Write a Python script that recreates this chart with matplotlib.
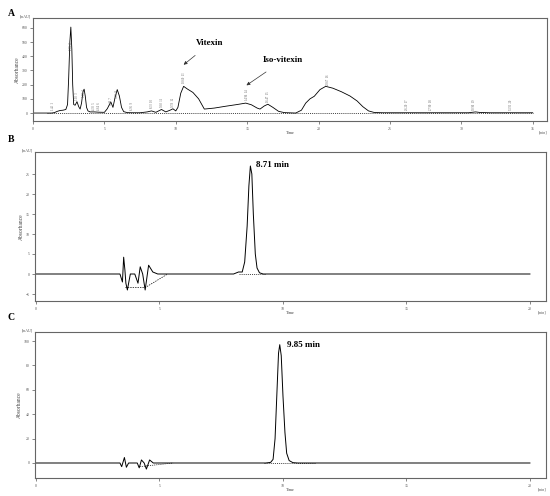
import matplotlib
matplotlib.use("Agg")
import matplotlib.pyplot as plt
import numpy as np

plt.rcParams['font.family'] = ['Liberation Serif', 'DejaVu Serif']

# ---- Panel A: extract chromatogram (time [min], absorbance [mAU]) ----
a_time = [0.0, 1.3, 1.5, 1.7, 1.9, 2.1, 2.3, 2.42, 2.5, 2.58, 2.65, 2.72, 2.78, 2.85,
          2.95, 3.08, 3.2, 3.3, 3.4, 3.5, 3.58, 3.66, 3.75, 3.85, 4.0, 4.3, 4.6, 5.0,
          5.2, 5.45, 5.6, 5.75, 5.9, 6.05, 6.2, 6.35, 6.6, 7.0, 7.5, 8.0, 8.3, 8.6,
          9.0, 9.3, 9.6, 9.8, 10.0, 10.15, 10.35, 10.55, 10.8, 11.2, 11.6, 12.0,
          12.7, 13.5, 14.3, 14.9, 15.3, 15.7, 15.9, 16.2, 16.45, 16.8, 17.2, 17.6,
          18.4, 18.8, 19.1, 19.4, 19.7, 20.1, 20.5, 21.0, 21.6, 22.2, 22.7, 23.1,
          23.5, 23.9, 24.5, 26.0, 28.0, 30.5, 31.0, 31.3, 32.0, 35.0]
a_abs = [0, 0, 3, 12, 18, 20, 25, 60, 250, 500, 605, 450, 200, 60,
         55, 80, 45, 28, 70, 150, 168, 120, 40, 15, 8, 8, 6, 5,
         30, 78, 40, 110, 165, 120, 40, 10, 3, 2, 2, 8, 15, 5,
         25, 8, 20, 30, 15, 40, 140, 188, 170, 145, 100, 28,
         35, 48, 60, 70, 58, 35, 28, 50, 62, 40, 12, 3,
         0, 20, 70, 100, 118, 165, 188, 175, 150, 120, 85, 45,
         15, 4, 2, 2, 2, 2, 8, 4, 2, 2]

a_peak_no = list(range(1, 21))
a_peak_rt = [1.42, 2.66, 3.10, 3.60, 4.30, 4.64, 5.48, 5.86, 6.95, 8.33,
             9.03, 9.78, 10.60, 14.96, 16.47, 20.67, 26.20, 27.90, 30.90, 33.50]
a_label_y = [20, 444, 90, 113, 20, 20, 56, 105, 20, 35,
             42, 42, 211, 92, 77, 197, 21, 21, 21, 21]

# ---- Panel B: standard, vitexin ----
b_time = [0.0, 3.4, 3.5, 3.55, 3.6, 3.64, 3.7, 3.82, 4.0, 4.13, 4.22, 4.32, 4.42,
          4.56, 4.73, 4.93, 6.0, 8.0, 8.2, 8.35, 8.45, 8.55, 8.62, 8.68, 8.74,
          8.8, 8.88, 8.95, 9.05, 9.2, 20.0]
b_abs = [0, 0, -2.0, 4.2, 1.0, -2.3, -4.0, 0, 0, -2.3, 1.8, 0, -4.0,
         2.2, 0.5, 0, 0, 0, 0.5, 0.5, 3, 12, 22, 27, 25,
         15, 5, 1.5, 0.3, 0, 0]
b_base_t = [3.62, 4.42, 5.33]
b_base_v = [-3.4, -3.4, 0.0]

# ---- Panel C: standard, iso-vitexin ----
c_time = [0.0, 3.4, 3.47, 3.58, 3.66, 3.75, 4.1, 4.18, 4.27, 4.38, 4.47, 4.6,
          4.75, 6.0, 9.3, 9.5, 9.6, 9.68, 9.75, 9.82, 9.87, 9.93, 10.0, 10.08,
          10.15, 10.25, 10.4, 10.6, 20.0]
c_abs = [0, 0, -3, 4.5, -3.5, 0, 0, -4, 2.5, 0, -5, 2.5,
         0, 0, 0, 0.5, 3, 20, 55, 90, 97, 88, 55, 25,
         8, 2, 0.3, 0, 0]
c_base_t = [4.2, 5.55]
c_base_v = [-3.0, 0.0]

W, H = 550, 496
fig = plt.figure(figsize=(W / 100, H / 100), dpi=100)


def px_axes(left, top, right, bottom):
    return fig.add_axes([left / W, 1 - bottom / H, (right - left) / W, (bottom - top) / H])


def style(ax, xt, yt):
    ax.set_xticks(xt)
    ax.set_yticks(yt)
    ax.tick_params(direction='out', length=2, width=0.5, labelsize=2.8, pad=2,
                   colors='#555555')
    for s in ax.spines.values():
        s.set_linewidth(0.8)
        s.set_color('#666666')
    ax.set_ylabel('Absorbance', fontsize=4, labelpad=1, color='#444444')
    ax.set_xlabel('Time', fontsize=3.2, labelpad=0, color='#444444')
    ax.text(-0.005, 1.0, '[mAU]', transform=ax.transAxes, fontsize=2.8,
            ha='right', va='bottom', color='#555555')
    ax.annotate('[min]', xy=(1.0, 0.0), xycoords='axes fraction',
                xytext=(0, -8), textcoords='offset points', fontsize=2.8,
                ha='right', va='center', color='#555555')


# Panel A
axA = px_axes(33, 18, 547, 121)
axA.plot(a_time, a_abs, color='black', lw=0.6)
axA.plot([1.0, 35.0], [0, 0], color='black', lw=0.5, ls=(0, (1.5, 1.5)))
for n, rt, ly in zip(a_peak_no, a_peak_rt, a_label_y):
    axA.text(rt, ly, f'{rt:.2f}  {n}', rotation=90, fontsize=2.0, ha='center',
             va='bottom', color='#555555')
axA.set_xlim(0, 36)
axA.set_ylim(-56, 669)
style(axA, range(0, 36, 5), range(0, 601, 100))
axA.annotate('Vitexin', xy=(10.55, 340), xytext=(12.4, 490), fontsize=6.5,
             fontweight='bold', ha='center', va='center',
             arrowprops=dict(arrowstyle='-|>', color='#333333', lw=0.5,
                             mutation_scale=5, shrinkB=0, shrinkA=6))
axA.annotate('Iso-vitexin', xy=(14.95, 195), xytext=(17.5, 370), fontsize=6.5,
             fontweight='bold', ha='center', va='center',
             arrowprops=dict(arrowstyle='-|>', color='#333333', lw=0.5,
                             mutation_scale=5, shrinkB=0, shrinkA=6))

# Panel B
axB = px_axes(35, 152, 546, 301)
axB.plot(b_time, b_abs, color='black', lw=0.7)
axB.plot(b_base_t, b_base_v, color='black', lw=0.5, ls=(0, (2, 1.5)))
axB.plot([8.2, 9.3], [0, 0], color='black', lw=0.5, ls=(0, (1.5, 1.5)))
axB.set_xlim(-0.04, 20.65)
axB.set_ylim(-6.75, 30.5)
style(axB, range(0, 21, 5), range(-5, 26, 5))
axB.text(8.9, 27.2, '8.71 min', fontsize=6.5, fontweight='bold', ha='left', va='center')

# Panel C
axC = px_axes(35, 332, 546, 478)
axC.plot(c_time, c_abs, color='black', lw=0.7)
axC.plot(c_base_t, c_base_v, color='black', lw=0.5, ls=(0, (1.5, 1.5)))
axC.plot([9.25, 11.3], [0, 0], color='black', lw=0.5, ls=(0, (1.5, 1.5)))
axC.set_xlim(-0.04, 20.65)
axC.set_ylim(-12.3, 107.4)
style(axC, range(0, 21, 5), range(0, 101, 20))
axC.text(10.15, 97, '9.85 min', fontsize=6.5, fontweight='bold', ha='left', va='center')

for lab, y in (('A', 14), ('B', 140), ('C', 318)):
    fig.text(8 / W, 1 - y / H, lab, fontsize=7, fontweight='bold', ha='left', va='center')

fig.savefig('out.png', dpi=100)
